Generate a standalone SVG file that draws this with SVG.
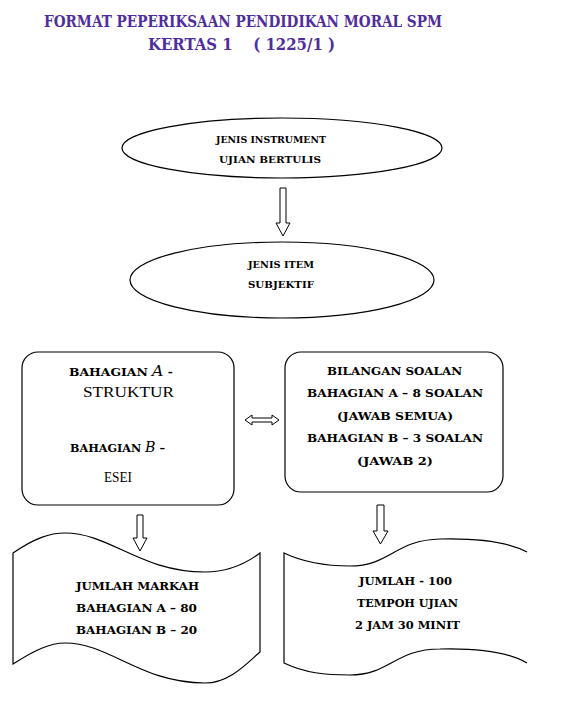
<svg xmlns="http://www.w3.org/2000/svg" width="563" height="710" viewBox="0 0 563 710">
<style>
.t{font-family:"DejaVu Serif","Liberation Serif",serif;font-weight:bold;fill:#000}
.title{font-family:"DejaVu Serif","Liberation Serif",serif;font-weight:bold;fill:#4f2d9f;font-size:17px}
.s{font-size:9px}
.m{font-size:11px}
.n{font-family:"Liberation Serif",serif;font-weight:normal;font-size:14px;fill:#000}
.shape{fill:#fff;stroke:#000;stroke-width:1.2}
.arr{fill:#fff;stroke:#000;stroke-width:1}
</style>
<rect width="563" height="710" fill="#fff"/>
<g id="title">
<text class="title" x="44" y="27" textLength="398" lengthAdjust="spacingAndGlyphs">FORMAT PEPERIKSAAN PENDIDIKAN MORAL SPM</text>
<text class="title" x="148" y="50" textLength="187" lengthAdjust="spacingAndGlyphs" xml:space="preserve">KERTAS 1    ( 1225/1 )</text>
</g>
<g id="connectors">
<path class="arr" d="M280,188 H286 V223 H290 L283,236 L276,223 H280 Z"/>
<path class="arr" d="M137,515 H143 V538 H147 L140,551 L133,538 H137 Z"/>
<path class="arr" d="M377,505 H384 V531 H388 L380.5,544 L373,531 H377 Z"/>
<path class="arr" d="M245,420 L252,415 V418 H272 V415 L279,420 L272,425 V422 H252 V425 Z"/>
</g>
<g id="node-instrument">
<ellipse class="shape" cx="282" cy="148" rx="160" ry="30"/>
<text class="t s" x="216" y="143" textLength="110" lengthAdjust="spacingAndGlyphs">JENIS INSTRUMENT</text>
<text class="t s" x="219" y="163" textLength="102" lengthAdjust="spacingAndGlyphs">UJIAN BERTULIS</text>
</g>
<g id="node-item">
<ellipse class="shape" cx="282" cy="280" rx="152" ry="38"/>
<text class="t s" x="248" y="268" textLength="66" lengthAdjust="spacingAndGlyphs">JENIS ITEM</text>
<text class="t s" x="248" y="288" textLength="66" lengthAdjust="spacingAndGlyphs">SUBJEKTIF</text>
</g>
<g id="node-bahagian">
<rect class="shape" x="22" y="352" width="212" height="153" rx="16"/>
<text class="t m" x="69" y="376" textLength="104" lengthAdjust="spacingAndGlyphs">BAHAGIAN <tspan font-style="italic" font-weight="normal" font-size="14">A</tspan> -</text>
<text class="n" x="83" y="397" textLength="91" lengthAdjust="spacingAndGlyphs">STRUKTUR</text>
<text class="t m" x="70" y="452" textLength="95" lengthAdjust="spacingAndGlyphs">BAHAGIAN <tspan font-style="italic" font-weight="normal" font-size="14">B</tspan> –</text>
<text class="n" x="104" y="482" textLength="28" lengthAdjust="spacingAndGlyphs">ESEI</text>
</g>
<g id="node-soalan">
<rect class="shape" x="285" y="352" width="218" height="140" rx="16"/>
<text class="t m" x="327" y="375" textLength="135" lengthAdjust="spacingAndGlyphs">BILANGAN SOALAN</text>
<text class="t m" x="307" y="397" textLength="176" lengthAdjust="spacingAndGlyphs">BAHAGIAN A – 8 SOALAN</text>
<text class="t m" x="337" y="420" textLength="116" lengthAdjust="spacingAndGlyphs">(JAWAB SEMUA)</text>
<text class="t m" x="307" y="442" textLength="176" lengthAdjust="spacingAndGlyphs">BAHAGIAN B – 3 SOALAN</text>
<text class="t m" x="357" y="465" textLength="76" lengthAdjust="spacingAndGlyphs">(JAWAB 2)</text>
</g>
<g id="node-markah">
<path class="shape" d="M13,553 C35,538 50,533 65,533 C110,533 140,572 205,572 C230,572 248,562 260,553 L260,652 C248,662 230,683 205,683 C140,683 110,643 65,643 C50,643 35,650 13,664 Z"/>
<text class="t m" x="76" y="590" textLength="123" lengthAdjust="spacingAndGlyphs">JUMLAH MARKAH</text>
<text class="t m" x="76" y="612" textLength="121" lengthAdjust="spacingAndGlyphs">BAHAGIAN A – 80</text>
<text class="t m" x="76" y="634" textLength="121" lengthAdjust="spacingAndGlyphs">BAHAGIAN B – 20</text>
</g>
<g id="node-jumlah">
<path class="shape" d="M527,552 C510,543 480,538 440,539 C395,540 390,566 350,566 C325,566 305,563 284,553 L284,663 C305,673 325,675 350,675 C390,675 395,649 440,649 C480,648 510,653 527,663"/>
<text class="t m" x="359" y="585" textLength="93" lengthAdjust="spacingAndGlyphs">JUMLAH - 100</text>
<text class="t m" x="357" y="607" textLength="101" lengthAdjust="spacingAndGlyphs">TEMPOH UJIAN</text>
<text class="t m" x="355" y="629" textLength="105" lengthAdjust="spacingAndGlyphs">2 JAM 30 MINIT</text>
</g>
</svg>
